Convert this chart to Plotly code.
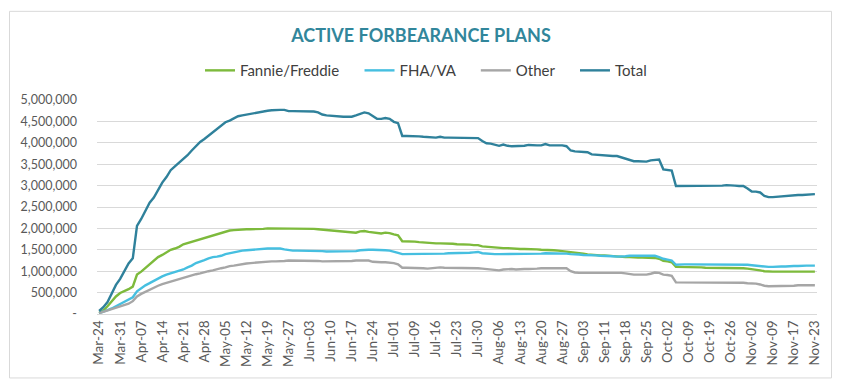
import plotly.graph_objects as go

tick_labels = ["Mar-24", "Mar-31", "Apr-07", "Apr-14", "Apr-21", "Apr-28", "May-05", "May-12",
               "May-19", "May-27", "Jun-03", "Jun-10", "Jun-17", "Jun-24", "Jul-01", "Jul-09",
               "Jul-16", "Jul-23", "Jul-30", "Aug-06", "Aug-13", "Aug-20", "Aug-27", "Sep-03",
               "Sep-11", "Sep-18", "Sep-25", "Oct-02", "Oct-09", "Oct-19", "Oct-26", "Nov-02",
               "Nov-09", "Nov-17", "Nov-23"]

# values in millions of plans, one per reporting day
total = [0.07, 0.16, 0.28, 0.49, 0.68, 0.82, 1.01, 1.18, 1.30, 2.06,
         2.22, 2.43, 2.60, 2.72, 2.91, 3.07, 3.20, 3.36, 3.45, 3.53,
         3.61, 3.71, 3.82, 3.92, 4.02, 4.09, 4.17, 4.23, 4.33, 4.40,
         4.48, 4.52, 4.57, 4.62, 4.64, 4.66, 4.67, 4.69, 4.71, 4.73,
         4.75, 4.76, 4.77, 4.77, 4.77, 4.74, 4.74, 4.74, 4.74, 4.74,
         4.74, 4.73, 4.71, 4.66, 4.64, 4.63, 4.62, 4.61, 4.61, 4.61,
         4.61, 4.64, 4.67, 4.71, 4.69, 4.63, 4.56, 4.56, 4.58, 4.56,
         4.49, 4.46, 4.16, 4.16, 4.16, 4.16, 4.15, 4.14, 4.13, 4.12,
         4.12, 4.14, 4.12, 4.12, 4.12, 4.12, 4.12, 4.12, 4.12, 4.12,
         4.11, 4.04, 3.99, 3.98, 3.96, 3.93, 3.96, 3.93, 3.92, 3.92,
         3.93, 3.93, 3.95, 3.94, 3.94, 3.94, 3.97, 3.94, 3.94, 3.94,
         3.94, 3.92, 3.82, 3.80, 3.79, 3.79, 3.78, 3.73, 3.72, 3.71,
         3.70, 3.70, 3.69, 3.69, 3.66, 3.62, 3.59, 3.57, 3.57, 3.56,
         3.56, 3.59, 3.60, 3.61, 3.38, 3.37, 3.35, 2.99, 2.99, 3.00,
         3.00, 3.00, 2.99, 2.99, 2.99, 2.99, 2.99, 3.00, 3.00, 3.01,
         3.01, 3.00, 2.99, 2.99, 2.93, 2.86, 2.86, 2.84, 2.76, 2.73,
         2.73, 2.74, 2.75, 2.76, 2.77, 2.77, 2.78, 2.78, 2.79, 2.80,
         2.80]

fannie_freddie = [0.02, 0.08, 0.18, 0.30, 0.41, 0.49, 0.53, 0.58, 0.64, 0.92,
                  0.99, 1.07, 1.16, 1.24, 1.33, 1.38, 1.44, 1.50, 1.53, 1.57,
                  1.63, 1.66, 1.69, 1.72, 1.75, 1.78, 1.81, 1.83, 1.86, 1.89,
                  1.92, 1.95, 1.96, 1.97, 1.97, 1.98, 1.98, 1.98, 1.99, 1.99,
                  2.00, 2.00, 2.00, 2.00, 2.00, 2.00, 2.00, 2.00, 2.00, 2.00,
                  2.00, 1.99, 1.98, 1.97, 1.96, 1.95, 1.94, 1.93, 1.92, 1.92,
                  1.91, 1.90, 1.93, 1.94, 1.92, 1.91, 1.89, 1.88, 1.90, 1.89,
                  1.86, 1.84, 1.70, 1.70, 1.70, 1.69, 1.68, 1.67, 1.66, 1.66,
                  1.65, 1.65, 1.65, 1.64, 1.64, 1.63, 1.63, 1.62, 1.62, 1.61,
                  1.61, 1.58, 1.57, 1.56, 1.56, 1.55, 1.54, 1.54, 1.53, 1.53,
                  1.52, 1.52, 1.52, 1.51, 1.51, 1.50, 1.50, 1.49, 1.49, 1.48,
                  1.47, 1.46, 1.45, 1.44, 1.42, 1.41, 1.39, 1.38, 1.37, 1.37,
                  1.37, 1.36, 1.36, 1.35, 1.34, 1.33, 1.33, 1.32, 1.32, 1.32,
                  1.32, 1.32, 1.31, 1.29, 1.24, 1.23, 1.21, 1.10, 1.10, 1.10,
                  1.10, 1.09, 1.09, 1.09, 1.08, 1.08, 1.08, 1.08, 1.08, 1.08,
                  1.08, 1.08, 1.08, 1.07, 1.06, 1.05, 1.04, 1.02, 1.00, 0.99,
                  0.99, 0.99, 0.99, 0.99, 0.99, 0.99, 0.99, 0.99, 0.99, 0.99,
                  0.99]

fha_va = [0.02, 0.05, 0.09, 0.13, 0.18, 0.23, 0.28, 0.33, 0.39, 0.53,
          0.61, 0.67, 0.72, 0.78, 0.83, 0.88, 0.92, 0.95, 0.99, 1.02,
          1.04, 1.09, 1.13, 1.19, 1.22, 1.26, 1.30, 1.33, 1.34, 1.36,
          1.40, 1.42, 1.44, 1.47, 1.48, 1.49, 1.50, 1.50, 1.51, 1.52,
          1.53, 1.53, 1.53, 1.53, 1.51, 1.49, 1.48, 1.48, 1.48, 1.48,
          1.48, 1.48, 1.47, 1.47, 1.46, 1.46, 1.46, 1.46, 1.46, 1.46,
          1.46, 1.47, 1.49, 1.50, 1.50, 1.50, 1.50, 1.49, 1.49, 1.48,
          1.46, 1.43, 1.40, 1.40, 1.40, 1.40, 1.40, 1.41, 1.41, 1.41,
          1.41, 1.41, 1.41, 1.42, 1.42, 1.42, 1.42, 1.43, 1.43, 1.44,
          1.45, 1.42, 1.41, 1.40, 1.40, 1.40, 1.40, 1.40, 1.40, 1.40,
          1.41, 1.41, 1.41, 1.41, 1.41, 1.41, 1.42, 1.42, 1.42, 1.42,
          1.41, 1.41, 1.40, 1.40, 1.39, 1.38, 1.38, 1.37, 1.37, 1.36,
          1.36, 1.35, 1.35, 1.34, 1.34, 1.35, 1.36, 1.36, 1.36, 1.36,
          1.36, 1.36, 1.36, 1.33, 1.29, 1.27, 1.25, 1.15, 1.16, 1.16,
          1.16, 1.16, 1.16, 1.16, 1.16, 1.16, 1.16, 1.16, 1.16, 1.16,
          1.16, 1.16, 1.16, 1.16, 1.15, 1.14, 1.13, 1.11, 1.10, 1.10,
          1.10, 1.11, 1.11, 1.11, 1.12, 1.12, 1.12, 1.13, 1.13, 1.13,
          1.13]

other = [0.02, 0.05, 0.08, 0.11, 0.14, 0.17, 0.20, 0.24, 0.30, 0.41,
         0.47, 0.52, 0.57, 0.62, 0.66, 0.70, 0.73, 0.76, 0.79, 0.82,
         0.85, 0.88, 0.91, 0.93, 0.95, 0.98, 1.00, 1.02, 1.05, 1.07,
         1.09, 1.12, 1.13, 1.15, 1.16, 1.18, 1.19, 1.20, 1.21, 1.22,
         1.22, 1.23, 1.23, 1.23, 1.24, 1.25, 1.25, 1.25, 1.25, 1.25,
         1.25, 1.24, 1.24, 1.23, 1.23, 1.23, 1.23, 1.23, 1.23, 1.23,
         1.24, 1.25, 1.25, 1.25, 1.25, 1.22, 1.21, 1.21, 1.21, 1.20,
         1.19, 1.16, 1.08, 1.08, 1.08, 1.08, 1.07, 1.07, 1.06, 1.07,
         1.08, 1.09, 1.08, 1.08, 1.08, 1.08, 1.08, 1.08, 1.07, 1.07,
         1.07, 1.06, 1.05, 1.04, 1.03, 1.02, 1.04, 1.05, 1.05, 1.04,
         1.05, 1.05, 1.05, 1.05, 1.06, 1.07, 1.07, 1.06, 1.07, 1.07,
         1.07, 1.07, 1.00, 0.97, 0.96, 0.96, 0.97, 0.97, 0.96, 0.96,
         0.96, 0.96, 0.96, 0.96, 0.96, 0.95, 0.93, 0.92, 0.92, 0.92,
         0.92, 0.94, 0.97, 0.96, 0.92, 0.91, 0.89, 0.74, 0.74, 0.74,
         0.74, 0.74, 0.74, 0.74, 0.74, 0.74, 0.74, 0.74, 0.74, 0.74,
         0.74, 0.74, 0.74, 0.73, 0.72, 0.72, 0.71, 0.69, 0.66, 0.65,
         0.65, 0.65, 0.66, 0.66, 0.66, 0.66, 0.67, 0.67, 0.67, 0.67,
         0.67]

series_names = ["Fannie/Freddie", "FHA/VA", "Other", "Total"]
series_colors = ["#7DBA3C", "#46BFE0", "#A6A6A6", "#2F819B"]
y_ticks = [0, 500000, 1000000, 1500000, 2000000, 2500000, 3000000, 3500000,
           4000000, 4500000, 5000000]
y_tick_text = ["-"] + [f"{v:,}" for v in y_ticks[1:]]

FONT = "Lato, 'Open Sans', sans-serif"
x = list(range(len(total)))
PAD = "\u00a0" * 4  # extra gap between legend entries

fig = go.Figure()
all_vals = [fannie_freddie, fha_va, other, total]
for k, (name, vals, color) in enumerate(zip(series_names, all_vals, series_colors)):
    label = name + (PAD if k < len(series_names) - 1 else "")
    fig.add_trace(go.Scatter(
        x=x, y=[v * 1_000_000 for v in vals], name=label, mode="lines",
        line=dict(color=color, width=2.4), hoverinfo="skip"))

# the page body adds an 8px offset; positions below are in figure pixels
L, R, T, B = 89, 33, 91.5, 80.7
W, H = 842, 387
pw, ph = W - L - R, H - T - B

def px_x(p):
    return (p - L) / pw

def px_y(p):
    return (H - B - p) / ph

fig.update_layout(
    width=W, height=H,
    template="none",
    paper_bgcolor="white", plot_bgcolor="white",
    margin=dict(l=L, r=R, t=T, b=B, pad=0),
    font=dict(family=FONT, color="#595959", size=12),
    title=dict(text="<b>ACTIVE FORBEARANCE PLANS</b>", x=413 / W, xref="container",
               xanchor="center", y=1 - 28 / H, yref="container", yanchor="middle",
               font=dict(family=FONT, size=18, color="#31869B")),
    showlegend=True,
    legend=dict(orientation="h", x=px_x(418), xanchor="center", y=px_y(62), yanchor="middle",
                font=dict(family=FONT, size=15, color="#404040"),
                itemwidth=30, tracegroupgap=0, bgcolor="rgba(0,0,0,0)"),
    xaxis=dict(range=[-0.5, len(total) - 0.5], tickmode="array",
               tickvals=list(range(0, len(total), 5)), ticktext=tick_labels,
               tickangle=-90, showgrid=False, zeroline=False,
               showline=True, linecolor="#D9D9D9", linewidth=1, ticks="",
               tickfont=dict(family=FONT, size=13.5, color="#595959"),
               automargin=False),
    yaxis=dict(range=[0, 5_000_000], tickmode="array", tickvals=y_ticks, ticktext=y_tick_text,
               showgrid=True, gridcolor="#D9D9D9", gridwidth=1, zeroline=False,
               showline=False, ticks="", ticklabelstandoff=19,
               tickfont=dict(family=FONT, size=12.5, color="#595959"),
               automargin=False),
    shapes=[dict(type="rect", xref="paper", yref="paper",
                 x0=px_x(1.5), x1=px_x(823.5), y0=px_y(370.5), y1=px_y(2.5),
                 line=dict(color="#D9D9D9", width=1), fillcolor="rgba(0,0,0,0)", layer="below")],
)

fig.write_html("out.html")
